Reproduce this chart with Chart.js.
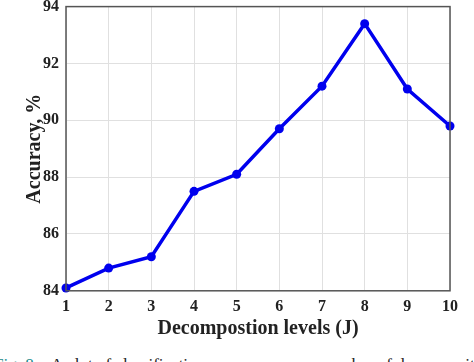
<!DOCTYPE html>
<html><head><meta charset="utf-8">
<script src="https://cdn.jsdelivr.net/npm/chart.js@4/dist/chart.umd.min.js"></script>
<style>
html,body{margin:0;padding:0;background:#fff;overflow:hidden;}
#wrap{position:absolute;left:0;top:-10px;width:474px;height:355px;}
#cap{position:absolute;left:-6px;top:355px;width:490px;white-space:nowrap;font-family:"Liberation Serif",serif;font-size:17px;color:#222;}
#cap b{color:#1a8a8a;font-weight:normal;}
</style></head><body>
<div id="wrap"><canvas id="c"></canvas></div>
<div id="cap"><b>Fig. 8.</b>&nbsp;&nbsp;&nbsp;A plot of classification accuracy versus number of decomposition</div>
<script>
const levels = [1,2,3,4,5,6,7,8,9,10];
const accuracy = [84.1,84.8,85.2,87.5,88.1,89.7,91.2,93.4,91.1,89.8];
const yTicks = [84,86,88,90,92,94];

const boxPlugin = {id:'box', afterDraw(ch){const a=ch.chartArea,c=ch.ctx;c.save();c.strokeStyle='#555';c.lineWidth=1.5;c.strokeRect(a.left,a.top,a.right-a.left,a.bottom-a.top);c.restore();}};

new Chart(document.getElementById('c'),{
 type:'line',
 data:{datasets:[{data:levels.map((x,i)=>({x:x,y:accuracy[i]})),borderColor:'#0000ee',backgroundColor:'#0000ee',borderWidth:3.5,pointRadius:4.5,pointBackgroundColor:'#0000ee',pointBorderWidth:0,tension:0,clip:false}]},
 options:{responsive:true,maintainAspectRatio:false,animation:false,
  layout:{padding:{top:0,right:24,left:0,bottom:0}},
  plugins:{legend:{display:false},tooltip:{enabled:false}},
  scales:{
   x:{type:'linear',min:1,max:10,afterBuildTicks:s=>{s.ticks=levels.map(v=>({value:v}));},
      grid:{color:'#e0e0e0',drawTicks:false},border:{display:false},
      ticks:{color:'#222',padding:6,font:{family:'Liberation Serif',size:16,weight:'bold'}},
      title:{display:true,text:'Decompostion levels (J)',color:'#222',padding:{top:-5,bottom:4},font:{family:'Liberation Serif',size:20,weight:'bold'}}},
   y:{min:84,max:94,afterBuildTicks:s=>{s.ticks=yTicks.map(v=>({value:v}));},
      grid:{color:'#e0e0e0',drawTicks:false},border:{display:false},
      ticks:{color:'#222',padding:7,font:{family:'Liberation Serif',size:16,weight:'bold'}},
      title:{display:true,text:'Accuracy, %',color:'#222',padding:{top:25,bottom:-9},font:{family:'Liberation Serif',size:20,weight:'bold',lineHeight:1}}}
  }},
 plugins:[boxPlugin]
});
</script></body></html>
